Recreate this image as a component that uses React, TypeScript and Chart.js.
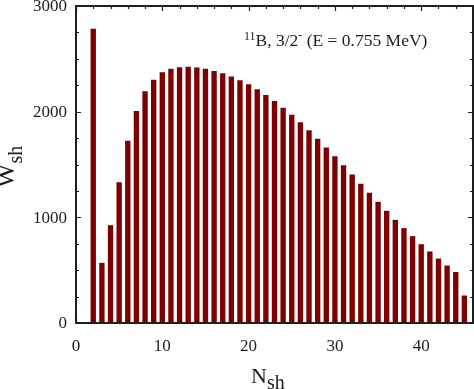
import React, { useEffect, useRef } from "react";
import { Chart, registerables } from "chart.js";

Chart.register(...registerables);

const nsh: number[] = [2,3,4,5,6,7,8,9,10,11,12,13,14,15,16,17,18,19,20,21,22,23,24,25,26,27,28,29,30,31,32,33,34,35,36,37,38,39,40,41,42,43,44,45];
const wsh: number[] = [2784,569,926,1331,1725,2007,2193,2303,2373,2405,2421,2424,2417,2405,2386,2364,2332,2298,2260,2212,2158,2100,2038,1972,1900,1823,1744,1662,1577,1492,1406,1318,1232,1147,1062,976,898,822,746,677,610,544,483,260];
const xTicks: number[] = [0,10,20,30,40];
const yTicks: number[] = [0,1000,2000,3000];

const SERIF = "'Liberation Serif', 'Times New Roman', serif";
const INK = "#1e1e1e";

function drawRuns(ctx: CanvasRenderingContext2D, x: number, y: number, runs: { t: string; size: number; dy: number }[]) {
  let cx = x;
  for (const r of runs) {
    ctx.font = `${r.size}px ${SERIF}`;
    ctx.fillText(r.t, cx, y + r.dy);
    cx += ctx.measureText(r.t).width;
  }
}

const decor = {
  id: "decor",
  afterDatasetsDraw(chart: any) {
    const ctx: CanvasRenderingContext2D = chart.ctx;
    const { left, right, top, bottom } = chart.chartArea;
    const xs = chart.scales.x;
    const ys = chart.scales.y;
    ctx.save();
    ctx.strokeStyle = INK;
    ctx.lineWidth = 1.2;
    for (let v = 0; v <= 46; v += 2) {
      const px = Math.round(xs.getPixelForValue(v)) + 0.5;
      const len = v % 10 === 0 ? 5 : 3;
      ctx.beginPath();
      ctx.moveTo(px, bottom); ctx.lineTo(px, bottom - len);
      ctx.moveTo(px, top); ctx.lineTo(px, top + len);
      ctx.stroke();
    }
    for (let v = 0; v <= 3000; v += 250) {
      const py = Math.round(ys.getPixelForValue(v)) + 0.5;
      const len = v % 1000 === 0 ? 5 : 3;
      ctx.beginPath();
      ctx.moveTo(left, py); ctx.lineTo(left + len, py);
      ctx.moveTo(right, py); ctx.lineTo(right - len, py);
      ctx.stroke();
    }
    ctx.lineWidth = 2;
    ctx.strokeRect(left, top, right - left, bottom - top);

    ctx.fillStyle = INK;
    ctx.font = `17px ${SERIF}`;
    ctx.textAlign = "right";
    ctx.textBaseline = "middle";
    for (const v of yTicks) {
      ctx.fillText(String(v), left - 9, ys.getPixelForValue(v) + 1);
    }
    ctx.textAlign = "center";
    ctx.textBaseline = "alphabetic";
    for (const v of xTicks) {
      ctx.fillText(String(v), xs.getPixelForValue(v), bottom + 28);
    }
    ctx.textAlign = "left";
    drawRuns(ctx, 251, 383, [
      { t: "N", size: 22, dy: 0 },
      { t: "sh", size: 20, dy: 6 },
    ]);
    ctx.save();
    ctx.translate(14, 188);
    ctx.rotate(-Math.PI / 2);
    drawRuns(ctx, 0, 0, [
      { t: "W", size: 26, dy: 0 },
      { t: "sh", size: 20, dy: 8 },
    ]);
    ctx.restore();
    drawRuns(ctx, 244, 46, [
      { t: "11", size: 12, dy: -6 },
      { t: "B, 3/2", size: 17.5, dy: 0 },
      { t: "-", size: 12, dy: -7 },
      { t: " (E = 0.755 MeV)", size: 17.5, dy: 0 },
    ]);
    ctx.restore();
  },
};

export default function App() {
  const ref = useRef<HTMLCanvasElement | null>(null);
  useEffect(() => {
    document.body.style.margin = "0";
    const canvas = ref.current!;
    const chart = new Chart(canvas, {
      type: "bar",
      data: {
        datasets: [
          {
            data: nsh.map((n, i) => ({ x: n, y: wsh[i] })),
            backgroundColor: "#7f0000",
            borderWidth: 0,
            barPercentage: 0.62,
            categoryPercentage: 1,
          },
        ],
      },
      options: {
        responsive: false,
        animation: false,
        devicePixelRatio: 1,
        layout: { padding: { left: 76, right: 1, top: 6, bottom: 66 } },
        plugins: { legend: { display: false }, tooltip: { enabled: false } },
        scales: {
          x: {
            type: "linear",
            display: false,
            min: 0,
            max: 46,
            offset: false,
          },
          y: {
            display: false,
            min: 0,
            max: 3000,
          },
        },
      },
      plugins: [decor],
    } as any);
    return () => chart.destroy();
  }, []);
  return (
    <div style={{ position: "absolute", left: 0, top: 0, width: 474, height: 389, background: "#fff" }}>
      <canvas ref={ref} width={474} height={389} />
    </div>
  );
}
